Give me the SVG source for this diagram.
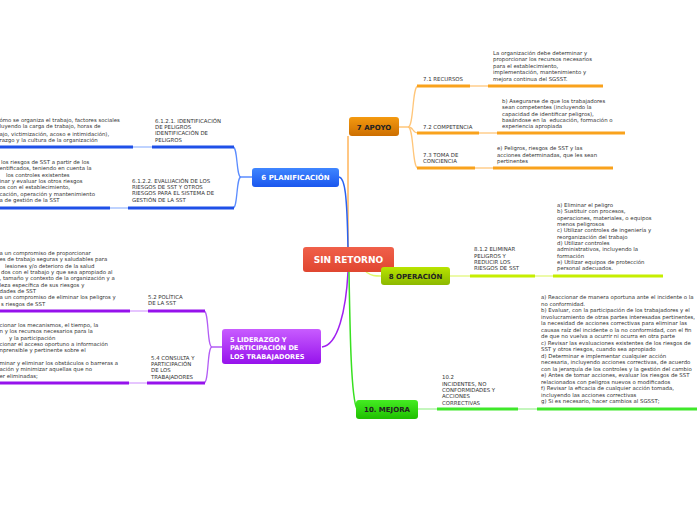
<svg xmlns="http://www.w3.org/2000/svg" width="697" height="520" viewBox="0 0 697 520">
<defs>
<linearGradient id="gRed" x1="0" y1="0" x2="0" y2="1"><stop offset="0" stop-color="#f0604a"/><stop offset="1" stop-color="#e04630"/></linearGradient>
<linearGradient id="gOr" x1="0" y1="0" x2="0" y2="1"><stop offset="0" stop-color="#f49a10"/><stop offset="1" stop-color="#cc6e00"/></linearGradient>
<linearGradient id="gBl" x1="0" y1="0" x2="0" y2="1"><stop offset="0" stop-color="#3f86ff"/><stop offset="1" stop-color="#1a56ee"/></linearGradient>
<linearGradient id="gYg" x1="0" y1="0" x2="0" y2="1"><stop offset="0" stop-color="#b8e400"/><stop offset="1" stop-color="#8cb800"/></linearGradient>
<linearGradient id="gPu" x1="0" y1="0" x2="0" y2="1"><stop offset="0" stop-color="#c85cff"/><stop offset="1" stop-color="#9612ec"/></linearGradient>
<linearGradient id="gGr" x1="0" y1="0" x2="0" y2="1"><stop offset="0" stop-color="#44ec22"/><stop offset="1" stop-color="#1fbf00"/></linearGradient>
</defs>
<style>
.d{font-family:"DejaVu Sans",Verdana,sans-serif;font-size:5.4px;fill:#333}
.n{font-family:"DejaVu Sans",Verdana,sans-serif;font-weight:bold;font-size:7px}
.n5{font-size:6.6px}
.nr{font-size:9px}
.c{fill:none;stroke-width:1.3}
.t{fill:none;stroke-width:3}
.l{fill:none;stroke-width:1.3}
.or .c,.or .l{stroke:#ffc67a}.or .t{stroke:#f9a21c}
.bl .c{stroke:#5b8cff}.bl .l{stroke:#9cbcff}.bl .t{stroke:#1f50e8}
.yg .c,.yg .l{stroke:#e2f77a}.yg .t{stroke:#c6ee00}
.pu .c{stroke:#b35cf5}.pu .l{stroke:#d9a6ff}.pu .t{stroke:#9612ec}
.gr .c,.gr .l{stroke:#a4f29a}.gr .t{stroke:#3fe82a}
</style>
<g id="connectors">
<path d="M348,247 L348,136" stroke="#ffb45a" fill="none" stroke-width="1.5"/>
<path d="M339,177 C345,178 347,195 348,248" stroke="#2a62f0" fill="none" stroke-width="1.5"/>
<path d="M348,272 C346,310 338,345 322,347" stroke="#a020f0" fill="none" stroke-width="1.5"/>
<path d="M349,272 C350,330 351,398 357,409" stroke="#38e020" fill="none" stroke-width="1.5"/>
<path d="M366,272 C372,276 375,276 381,276" stroke="#e0f870" fill="none" stroke-width="1.5"/>
<g class="or">
<path class="c" d="M399,127 L408,127 C414,127 412,86 418,86"/>
<path class="c" d="M408,127 C414,127 412,133 418,133"/>
<path class="c" d="M408,127 C414,127 412,168 418,168"/>
<path class="t" d="M417,86 L470,86"/><path class="l" d="M470,86 L488,86"/><path class="t" d="M488,86 L603,86"/>
<path class="t" d="M417,133 L479,133"/><path class="l" d="M479,133 L497,133"/><path class="t" d="M497,133 L625,133"/>
<path class="t" d="M417,168 L475,168"/><path class="l" d="M475,168 L493,168"/><path class="t" d="M493,168 L613,168"/>
</g>
<g class="bl">
<path class="c" d="M252,177 L241,177 C236,177 238,147 233,147"/>
<path class="c" d="M241,177 C236,177 238,208 233,208"/>
<path class="t" d="M152,147 L234,147"/><path class="l" d="M133,147 L152,147"/><path class="t" d="M-5,147 L133,147"/>
<path class="t" d="M128,208 L234,208"/><path class="l" d="M110,208 L128,208"/><path class="t" d="M-5,208 L110,208"/>
</g>
<g class="pu">
<path class="c" d="M222,347 L212,347 C207,347 209,311 204,311"/>
<path class="c" d="M212,347 C207,347 209,383 204,383"/>
<path class="t" d="M148,311 L205,311"/><path class="l" d="M130,311 L148,311"/><path class="t" d="M-5,311 L130,311"/>
<path class="t" d="M147,383 L205,383"/><path class="l" d="M129,383 L147,383"/><path class="t" d="M-5,383 L129,383"/>
</g>
<g class="yg">
<path class="l" d="M450,276 L470,276"/><path class="t" d="M470,276 L535,276"/><path class="l" d="M535,276 L553,276"/><path class="t" d="M553,276 L663,276"/>
</g>
<g class="gr">
<path class="l" d="M418,409 L437,409"/><path class="t" d="M437,409 L518,409"/><path class="l" d="M518,409 L537,409"/><path class="t" d="M537,409 L700,409"/>
</g>
</g>
<g id="root">
<rect x="303" y="247" width="91" height="25" rx="3" fill="url(#gRed)"/>
<text class="n nr" x="348.5" y="263.2" text-anchor="middle" fill="#fff">SIN RETORNO</text>
</g>
<g id="n7">
<rect x="349" y="117" width="50" height="19" rx="3" fill="url(#gOr)"/>
<text class="n" x="374" y="129.5" text-anchor="middle" fill="#222">7 APOYO</text>
</g>
<g id="n7-1">
<text class="d" x="423" y="81">7.1 RECURSOS</text>
<text class="d" x="493" y="55">La organización debe determinar y</text>
<text class="d" x="493" y="61.4">proporcionar los recursos necesarios</text>
<text class="d" x="493" y="67.8">para el establecimiento,</text>
<text class="d" x="493" y="74.3">implementación, mantenimiento y</text>
<text class="d" x="493" y="80.7">mejora continua del SGSST.</text>
</g>
<g id="n7-2">
<text class="d" x="423" y="129">7.2 COMPETENCIA</text>
<text class="d" x="502" y="103">b) Asegurarse de que los trabajadores</text>
<text class="d" x="502" y="109.3">sean competentes (incluyendo la</text>
<text class="d" x="502" y="115.6">capacidad de identificar peligros),</text>
<text class="d" x="502" y="121.9" xml:space="preserve">basándose en la  educación, formación o</text>
<text class="d" x="502" y="128.2">experiencia apropiada</text>
</g>
<g id="n7-3">
<text class="d" x="423" y="157">7.3 TOMA DE</text>
<text class="d" x="423" y="163.2">CONCIENCIA</text>
<text class="d" x="497" y="150.1">e) Peligros, riesgos de SST y las</text>
<text class="d" x="497" y="156.5">acciones determinadas, que les sean</text>
<text class="d" x="497" y="162.8">pertinentes</text>
</g>
<g id="n6">
<rect x="252" y="168" width="87" height="19" rx="3" fill="url(#gBl)"/>
<text class="n" x="295.5" y="179.8" text-anchor="middle" fill="#fff">6 PLANIFICACIÓN</text>
</g>
<g id="n6-1">
<text class="d" x="155" y="122.7">6.1.2.1. IDENTIFICACIÓN</text>
<text class="d" x="155" y="129">DE PELIGROS</text>
<text class="d" x="155" y="135.4">IDENTIFICACIÓN DE</text>
<text class="d" x="155" y="141.7">PELIGROS</text>
<text class="d" x="-0.5" y="122">ómo se organiza el trabajo, factores sociales</text>
<text class="d" x="-0.5" y="128.3">luyendo la carga de trabajo, horas de</text>
<text class="d" x="-0.5" y="135.5">ajo, victimización, acoso e intimidación),</text>
<text class="d" x="-0.5" y="141.9">razgo y la cultura de la organización</text>
</g>
<g id="n6-2">
<text class="d" x="132" y="182.5">6.1.2.2. EVALUACIÓN DE LOS</text>
<text class="d" x="132" y="189">RIESGOS DE SST Y OTROS</text>
<text class="d" x="132" y="195.4">RIESGOS PARA EL SISTEMA DE</text>
<text class="d" x="132" y="201.8">GESTIÓN DE LA SST</text>
<text class="d" x="1" y="164.1">los riesgos de SST a partir de los</text>
<text class="d" x="-0.5" y="170.4">entificados, teniendo en cuenta la</text>
<text class="d" x="6" y="176.7">los controles existentes</text>
<text class="d" x="-0.5" y="183">inar y evaluar los otros riesgos</text>
<text class="d" x="-0.5" y="189.3">os con el establecimiento,</text>
<text class="d" x="-0.5" y="195.6">cación, operación y mantenimiento</text>
<text class="d" x="-0.5" y="201.9">a de gestión de la SST</text>
</g>
<g id="n8">
<rect x="381" y="267" width="69" height="18" rx="3" fill="url(#gYg)"/>
<text class="n" x="415.5" y="278.6" text-anchor="middle" fill="#222">8 OPERACIÓN</text>
</g>
<g id="n8-1">
<text class="d" x="474" y="251.1">8.1.2 ELIMINAR</text>
<text class="d" x="474" y="257.5">PELIGROS Y</text>
<text class="d" x="474" y="263.8">REDUCIR LOS</text>
<text class="d" x="474" y="270.1">RIESGOS DE SST</text>
<text class="d" x="557" y="206.8">a) Eliminar el peligro</text>
<text class="d" x="557" y="213.2">b) Sustituir con procesos,</text>
<text class="d" x="557" y="219.5">operaciones, materiales, o equipos</text>
<text class="d" x="557" y="225.9">menos peligrosos</text>
<text class="d" x="557" y="232.2">c) Utilizar controles de ingeniería y</text>
<text class="d" x="557" y="238.6">reorganización del trabajo</text>
<text class="d" x="557" y="244.9">d) Utilizar controles</text>
<text class="d" x="557" y="251.3">administrativos, incluyendo la</text>
<text class="d" x="557" y="257.6">formación</text>
<text class="d" x="557" y="264">e) Utilizar equipos de protección</text>
<text class="d" x="557" y="270.3">personal adecuados.</text>
</g>
<g id="n5">
<rect x="222" y="329" width="99" height="35" rx="3" fill="url(#gPu)"/>
<text class="n n5" x="230" y="342.3" fill="#fff">5 LIDERAZGO Y</text>
<text class="n n5" x="230" y="350.3" fill="#fff">PARTICIPACIÓN DE</text>
<text class="n n5" x="230" y="358.6" fill="#fff">LOS TRABAJADORES</text>
</g>
<g id="n5-2">
<text class="d" x="148" y="298.5">5.2 POLÍTICA</text>
<text class="d" x="148" y="305">DE LA SST</text>
<text class="d" x="-0.5" y="255.1">a un compromiso de proporcionar</text>
<text class="d" x="-0.5" y="261.4">es de trabajo seguras y saludables para</text>
<text class="d" x="5" y="267.8">lesiones y/o deterioro de la salud</text>
<text class="d" x="1" y="274.1">dos con el trabajo y que sea apropiado al</text>
<text class="d" x="-0.5" y="280.4">, tamaño y contexto de la organización y a</text>
<text class="d" x="-0.5" y="286.8">leza específica de sus riesgos y</text>
<text class="d" x="-0.5" y="293.1">dades de SST</text>
<text class="d" x="-0.5" y="299.4">a un compromiso de eliminar los peligros y</text>
<text class="d" x="1" y="305.8">s riesgos de SST</text>
</g>
<g id="n5-4">
<text class="d" x="151" y="359.5">5.4 CONSULTA Y</text>
<text class="d" x="151" y="365.8">PARTICIPACIÓN</text>
<text class="d" x="151" y="372.2">DE LOS</text>
<text class="d" x="151" y="378.5">TRABAJADORES</text>
<text class="d" x="-0.5" y="326.8">cionar los mecanismos, el tiempo, la</text>
<text class="d" x="-0.5" y="333.1">n y los recursos necesarios para la</text>
<text class="d" x="9" y="339.5">y la participación</text>
<text class="d" x="-0.5" y="345.8">cionar el acceso oportuno a información</text>
<text class="d" x="-0.5" y="352.1">nprensible y pertinente sobre el</text>
<text class="d" x="-0.5" y="364.8">minar y eliminar los obstáculos o barreras a</text>
<text class="d" x="-0.5" y="371.1">ación y minimizar aquellas que no</text>
<text class="d" x="-0.5" y="377.5">er eliminadas;</text>
</g>
<g id="n10">
<rect x="356" y="400" width="62" height="19" rx="3" fill="url(#gGr)"/>
<text class="n" x="387" y="412.2" text-anchor="middle" fill="#222">10. MEJORA</text>
</g>
<g id="n10-2">
<text class="d" x="442" y="379.1">10.2</text>
<text class="d" x="442" y="385.5">INCIDENTES, NO</text>
<text class="d" x="442" y="391.8">CONFORMIDADES Y</text>
<text class="d" x="442" y="398.3">ACCIONES</text>
<text class="d" x="442" y="404.7">CORRECTIVAS</text>
<text class="d" x="541" y="299.1">a) Reaccionar de manera oportuna ante el incidente o la</text>
<text class="d" x="541" y="305.6">no conformidad.</text>
<text class="d" x="541" y="312.1">b) Evaluar, con la participación de los trabajadores y el</text>
<text class="d" x="541" y="318.7">involucramiento de otras partes interesadas pertinentes,</text>
<text class="d" x="541" y="325.2">la necesidad de acciones correctivas para eliminar las</text>
<text class="d" x="541" y="331.7">causas raíz del incidente o la no conformidad, con el fin</text>
<text class="d" x="541" y="338.2">de que no vuelva a ocurrir ni ocurra en otra parte</text>
<text class="d" x="541" y="344.7">c) Revisar las evaluaciones existentes de los riesgos de</text>
<text class="d" x="541" y="351.3">SST y otros riesgos, cuando sea apropiado</text>
<text class="d" x="541" y="357.8">d) Determinar e implementar cualquier acción</text>
<text class="d" x="541" y="364.3">necesaria, incluyendo acciones correctivas, de acuerdo</text>
<text class="d" x="541" y="370.8">con la jerarquía de los controles y la gestión del cambio</text>
<text class="d" x="541" y="377.3">e) Antes de tomar acciones, evaluar los riesgos de SST</text>
<text class="d" x="541" y="383.9">relacionados con peligros nuevos o modificados</text>
<text class="d" x="541" y="390.4">f) Revisar la eficacia de cualquier acción tomada,</text>
<text class="d" x="541" y="396.9">incluyendo las acciones correctivas</text>
<text class="d" x="541" y="403.4">g) Si es necesario, hacer cambios al SGSST;</text>
</g>
</svg>
